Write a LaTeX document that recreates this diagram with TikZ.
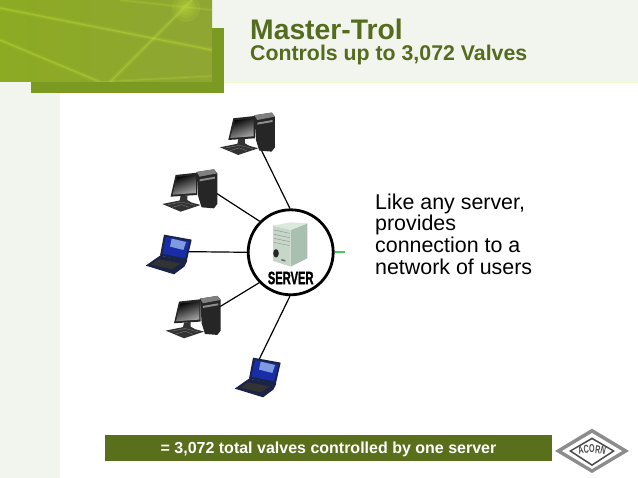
\documentclass[tikz,border=0pt]{standalone}
\usepackage{fontspec}
\setmainfont{Liberation Sans}
\newfontfamily\srvfont[FakeStretch=.62,BoldFeatures={FakeBold=1.2}]{Liberation Sans}
\newfontfamily\logofont[FakeStretch=.62]{Liberation Sans}
\usetikzlibrary{backgrounds,decorations.text}
\definecolor{paper}{HTML}{F2F4EE}
\definecolor{barleaf}{HTML}{7B9A22}
\definecolor{olive}{HTML}{556B1E}
\definecolor{barolive}{HTML}{5A6F1C}
\definecolor{lime}{HTML}{C4E23C}
\definecolor{photoa}{HTML}{8CAA22}
\definecolor{photob}{HTML}{9CBE22}
\definecolor{photoc}{HTML}{8FA634}
\definecolor{stubgreen}{HTML}{45C860}
\definecolor{casea}{HTML}{A9BFB0}
\definecolor{caseb}{HTML}{C6D6C8}
\definecolor{casec}{HTML}{DDE8DC}
\definecolor{navy}{HTML}{1A2348}
\definecolor{lcd}{HTML}{1A2DA8}
\definecolor{lcdlight}{HTML}{7F9BE0}
\tikzset{
	link/.style={line width=1.2pt,black},
	desktop/.pic={
		\begin{scope}[x=.3333pt,y=-.3333pt,shift={(-268,-70)}]
		\fill[black!85] (373,76) -- (425,68) -- (435,80) -- (435,172) -- (425,185) -- (388,182) -- (378,150) -- cycle;
		\fill[black!50] (373,76) -- (425,68) -- (435,80) -- (382,90) -- cycle;
		\fill[black!45] (382,98) -- (428,90) -- (428,96) -- (382,104) -- cycle;
		\fill[black!85] (310,85) -- (375,78) -- (375,145) -- (295,150) -- cycle;
		\shade[left color=black,right color=black!35,shading angle=20] (314,91) -- (371,85) -- (371,139) -- (301,144) -- cycle;
		\fill[black!80] (325,148) -- (345,146) -- (345,160) -- (358,168) -- (320,172) -- cycle;
		\fill[black!80] (270,172) -- (330,160) -- (385,175) -- (325,195) -- cycle;
		\draw[black!45,line width=.3pt] (288,174) -- (328,166) -- (368,176) (300,182) -- (328,174) -- (350,182);
		\coordinate (-foot) at (393,178);
		\coordinate (-side) at (425,135);
		\coordinate (-upper) at (425,105);
		\end{scope}
	},
	laptop/.pic={
		\begin{scope}[x=.3333pt,y=-.3333pt,shift={(-47,-433)}]
		\fill[navy] (102,434) -- (185,449) -- (170,514) -- (90,497) -- cycle;
		\fill[lcd] (108,441) -- (178,455) -- (165,505) -- (97,491) -- cycle;
		\fill[lcdlight] (125,446) -- (168,456) -- (160,480) -- (120,470) -- cycle;
		\fill[navy] (90,497) -- (172,512) -- (163,530) -- (132,553) -- (47,527) -- cycle;
		\fill[black!80] (85,508) -- (152,520) -- (125,538) -- (64,524) -- cycle;
		\coordinate (-side) at (170,485);
		\coordinate (-top) at (120,440);
		\end{scope}
	},
	tower/.pic={
		\begin{scope}[x=.3333pt,y=-.3333pt,shift={(-148,-130)}]
		\fill[casea] (150,85) -- (200,65) -- (200,170) -- (150,195) -- cycle;
		\fill[casec] (97,72) -- (150,62) -- (200,65) -- (150,85) -- cycle;
		\fill[caseb] (97,72) -- (150,85) -- (150,195) -- (97,178) -- cycle;
		\draw[black!50,line width=.3pt] (100,85) -- (147,95) (100,98) -- (147,108) (100,110) -- (147,120) (100,122) -- (147,132);
		\fill[black!85] (106,155) ellipse (2.8pt and 4.2pt);
		\fill[black!55] (122,172) -- (134,175) -- (134,180) -- (122,177) -- cycle;
		\end{scope}
	}
}
\begin{document}
\begin{tikzpicture}[x=1pt,y=-1pt]
\useasboundingbox (0,0) rectangle (638,478);

% backdrop
\begin{scope}[on background layer]
\fill[white] (0,0) rectangle (638,478);
\fill[paper] (0,0) rectangle (638,82);
\fill[lime!25] (212,82) rectangle (638,82.8);
\fill[paper] (0,82) rectangle (60,478);
\fill[barleaf] (31,28) rectangle (224,93.5);
\begin{scope}
\clip (0,0) rectangle (212,82);
\shade[left color=photoa,middle color=photob,right color=photoc] (0,0) rectangle (212,82);
\foreach \rayxa/\rayya/\rayxb/\rayyb in {192/0/110/82,0/40/100/82,0/8/212/50}
	\foreach \raywd/\rayop in {5/.1,2.5/.15,1/.3}
		\draw[lime,line width=\raywd pt,opacity=\rayop] (\rayxa,\rayya) -- (\rayxb,\rayyb);
\foreach \raywd/\rayop in {3/.1,1/.2}{
	\draw[lime,line width=\raywd pt,opacity=\rayop] (100,82) -- (212,76);
	\draw[lime,line width=\raywd pt,opacity=\rayop] (120,0) -- (212,10);
}
\foreach \glowr in {4,7,10,14}
	\fill[lime,opacity=.14] (186,8) circle (\glowr);
\end{scope}
\end{scope}

% title and text
\node[anchor=base west,inner sep=0,text=olive,font=\fontsize{28.3}{30}\selectfont\bfseries] (title) at (250,40) {Master-Trol};
\node[anchor=base west,inner sep=0,text=olive,font=\fontsize{21.3}{22}\selectfont\bfseries] (subtitle) at (250,61) {Controls up to 3,072 Valves};
\node[anchor=north west,inner sep=0,align=left,font=\fontsize{21.4}{21.7}\selectfont] (blurb) at (375,193.5) {Like any server,\\provides\\connection to a\\network of users};

% machines
\pic (pca) at (219.3,113.3) {desktop};
\pic (pcb) at (161.6,170) {desktop};
\pic (lapa) at (145.7,234.3) {laptop};
\pic (pcc) at (165,296.6) {desktop};
\pic (lapb) at (234.7,357.3) {laptop};

% server
\node[circle,draw,fill=white,line width=2.8pt,minimum size=85pt,inner sep=0] (srv) at (290.7,252.3) {};
\pic at (290,245) {tower};
\node[inner sep=0,font=\srvfont\fontsize{18}{18}\selectfont\bfseries] (srvname) at (290.7,278) {SERVER};
\coordinate (stub) at (345,252.3);

\begin{scope}[on background layer]
\draw[link] (pca-foot) -- (srv.91);
\draw[link] (pcb-side) -- (srv.135);
\draw[link] (lapa-side) -- (srv.180);
\draw[link] (pcc-upper) -- (srv.224);
\draw[link] (lapb-top) -- (srv.269);
\draw[line width=1.6pt,stubgreen] (srv.0) -- (stub);
\end{scope}

% bottom bar and logo
\node[anchor=north west,inner sep=0,minimum width=447pt,minimum height=26pt,fill=barolive] (totalbar) at (105,435) {};
\node[text=white,inner sep=0,font=\fontsize{16}{17}\selectfont\bfseries] (total) at (328.5,449.5) {= 3,072 total valves controlled by one server};
\fill[black!45] (555,451) -- (592,428.7) -- (629,451) -- (592,473) -- cycle;
\fill[white] (562,451) -- (592,433) -- (622,451) -- (592,469) -- cycle;
\fill[black!70] (569,451) -- (592,437.5) -- (615,451) -- (592,466) -- cycle;
\fill[white] (572,451) -- (592,439.5) -- (612,451) -- (592,464) -- cycle;
\path[decorate,decoration={text along path,text align=center,text color=black!70,
	text={|\logofont\bfseries\fontsize{11.5}{12}\selectfont|ACORN}}]
	(576,456) .. controls (585,452) and (599,452) .. (608,456);
\end{tikzpicture}
\end{document}
